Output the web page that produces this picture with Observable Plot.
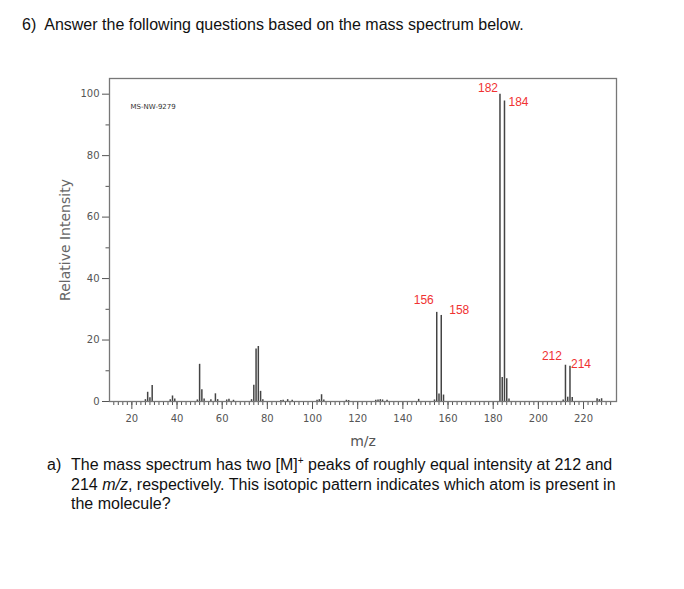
<!DOCTYPE html>
<html><head><meta charset="utf-8">
<script src="https://cdn.jsdelivr.net/npm/d3@7"></script>
<script src="https://cdn.jsdelivr.net/npm/@observablehq/plot@0.6"></script>
<style>
body{margin:0;background:#fff;width:684px;height:589px;position:relative;overflow:hidden;font-family:"Liberation Sans",Arial,sans-serif;color:#111}
#title{position:absolute;left:22px;top:16px;font-size:16px;white-space:nowrap}
#chart{position:absolute;left:0;top:60px}
#q{position:absolute;left:47px;top:455px;font-size:16px;line-height:19.5px;white-space:nowrap}
#q .lbl{position:absolute;left:0;top:0}
#q .body{margin-left:24px}
</style></head><body>
<div id="title">6)&nbsp; Answer the following questions based on the mass spectrum below.</div>
<div id="chart"></div>
<div id="q"><span class="lbl">a)</span><div class="body">The mass spectrum has two [M]<sup style="font-size:10px;line-height:0">+</sup> peaks of roughly equal intensity at 212 and<br>214 <i>m/z</i>, respectively. This isotopic pattern indicates which atom is present in<br>the molecule?</div></div>
<script>
// ---- data ----
const mz = [26,27,28,29,37,38,39,49,50,51,52,55,57,58,62,63,65,73,74,75,76,77,78,86,87,89,91,102,103,104,105,115,116,128,129,130,131,133,147,154,155,156,157,158,183,184,185,186,187,211,212,213,214,215,226,227,228];
const intensity = [0.6,3.0,1.2,5.2,0.6,1.8,0.8,0.5,12.1,3.8,0.8,0.6,2.5,0.6,0.5,0.7,0.4,0.6,5.3,17.1,17.9,3.3,0.6,0.3,0.4,0.6,0.4,0.4,0.6,2.2,0.5,0.4,0.3,0.4,0.5,0.6,0.5,0.4,0.7,0.5,29.0,2.4,28.0,2.1,100,7.8,97.8,7.4,0.8,0.5,11.8,1.4,11.5,1.3,0.9,0.6,0.9];
const labelPeaks = [183,185,155,157,212,214];
const labelTexts = ["182","184","156","158","212","214"];
const xTicks = [20,40,60,80,100,120,140,160,180,200,220];
const xMinorTicks = d3.range(12, 233, 2);
const yTicks = [0,20,40,60,80,100];
const yMinorTicks = [10,30,50,70,90];
const sampleId = "MS-NW-9279";
const xLabel = "m/z";
const yLabel = "Relative Intensity";

// ---- build ----
const peaks = mz.map((m, i) => ({mz: m, i: intensity[i]}));
const labelOffsets = [[-12,-6.4],[14,1],[-13,-12],[18,-5],[-13.5,-8.7],[11,-1.6]];
const labelMarks = labelPeaks.map((p, k) => Plot.text([{mz: p, i: intensity[mz.indexOf(p)], t: labelTexts[k]}], {
  x: "mz", y: "i", text: "t", dx: labelOffsets[k][0], dy: labelOffsets[k][1],
  fill: "#f03232", fontSize: 12, fontFamily: "Liberation Sans, Arial, sans-serif"
}));

const plot = Plot.plot({
  width: 684, height: 400,
  marginLeft: 109, marginRight: 68, marginTop: 18, marginBottom: 59,
  style: {fontFamily: "DejaVu Sans", fontSize: "10px", background: "transparent", color: "#555"},
  x: {domain: [10.1, 234.6]},
  y: {domain: [0, 105.1]},
  marks: [
    Plot.axisX({ticks: xMinorTicks, tickSize: 4, tickFormat: () => "", stroke: "#555", label: null}),
    Plot.axisX({ticks: xTicks, tickSize: 8, tickPadding: 5, stroke: "#555", fill: "#555", fontSize: 10, label: null}),
    Plot.axisY({ticks: yMinorTicks, tickSize: 3.5, tickFormat: () => "", stroke: "#555", fill: "#666", fontSize: 14,
      label: yLabel, labelAnchor: "center", labelOffset: 49, labelArrow: "none"}),
    Plot.axisY({ticks: yTicks, tickSize: 7, tickPadding: 3, stroke: "#555", fill: "#555", fontSize: 10, label: null}),
    Plot.ruleX(peaks, {x: "mz", y1: 0, y2: "i", stroke: "#444", strokeWidth: 1.5}),
    Plot.frame({stroke: "#777", strokeWidth: 1.3}),
    Plot.text([xLabel], {frameAnchor: "bottom", dy: 44, fill: "#555", fontSize: 14}),
    Plot.text([sampleId], {frameAnchor: "top-left", dx: 21, dy: 26, textAnchor: "start", fill: "#333", fontSize: 7}),
    ...labelMarks
  ]
});
document.getElementById("chart").appendChild(plot);
</script>
</body></html>
